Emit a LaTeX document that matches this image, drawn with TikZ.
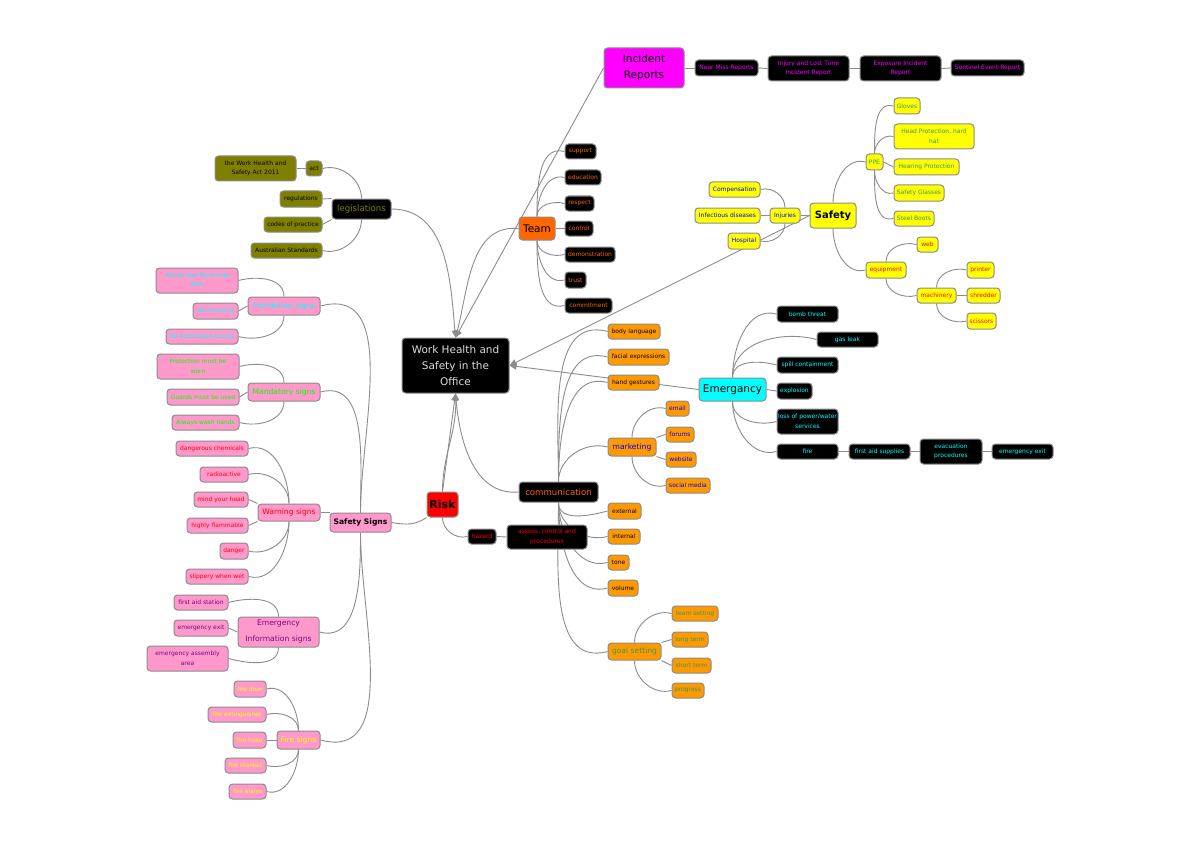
\documentclass[tikz,border=0pt]{standalone}
\usepackage{fontspec}
\setmainfont{DejaVu Sans}
\usetikzlibrary{arrows.meta,backgrounds}
\definecolor{gline}{HTML}{8C8C8C}
\definecolor{pinkf}{HTML}{FF99CC}
\definecolor{olivef}{HTML}{808000}
\definecolor{orgf}{HTML}{FF9900}
\definecolor{teamf}{HTML}{FF6600}
\definecolor{tealt}{HTML}{339966}
\definecolor{centt}{HTML}{DDDDDD}
\definecolor{magc}{HTML}{FF00FF}
\definecolor{cyac}{HTML}{00FFFF}
\definecolor{grec}{HTML}{00FF00}
\definecolor{yelc}{HTML}{FFFF00}
\definecolor{redc}{HTML}{FF0000}
\definecolor{bluc}{HTML}{0000FF}
\definecolor{purc}{HTML}{800080}
\tikzset{
 x=1pt,y=1pt,
 box/.style={draw=gline,line width=1pt,rounded corners=3.5pt,inner sep=0pt,align=center,font=\fontsize{6}{9.5}\selectfont},
 mid/.style={font=\fontsize{7.6}{16}\selectfont},
 wide/.style={font=\fontsize{8.6}{16}\selectfont},
 big/.style={font=\fontsize{10.5}{16}\selectfont},
 pinkb/.style={box,fill=pinkf},
 oliveb/.style={box,fill=olivef,text=black},
 orgb/.style={box,fill=orgf},
 yelb/.style={box,fill=yelc},
 blkb/.style={box,fill=black},
 edge/.style={draw=gline,line width=.9pt},
 arr/.style={edge,-{Triangle[length=7pt,width=6.5pt,fill=gline]}},
 upR/.style={out=90,in=165},
 dnR/.style={out=-90,in=195},
 upL/.style={out=90,in=15},
 dnL/.style={out=-90,in=-15},
}
\newcommand{\nd}[7][]{\node[#1,minimum width={#4-#3},minimum height={#6-#5}] (#2) at ({(#3+#4)/2},{-(#5+#6)/2}) {#7};}
\begin{document}
\begin{tikzpicture}
\useasboundingbox (0,0) rectangle (1200,-848);
% centre
\nd[blkb,big,text=centt]{cen}{402}{509}{338}{393}{Work Health and\\Safety in the\\Office}
% incident
\nd[box,big,fill=magc,text=black]{inc}{604}{684}{48}{88}{Incident\\Reports}
\nd[blkb,text=magc]{near}{695}{758}{60}{76}{Near Miss Reports}
\nd[blkb,text=magc]{inj}{768}{849}{56}{81}{Injury and Lost Time\\Incident Report}
\nd[blkb,text=magc]{expo}{860}{941}{56}{81}{Exposure Incident\\Report}
\nd[blkb,text=magc]{sent}{951}{1024}{60}{76}{Sentinel Event Report}
% safety
\nd[yelb,font=\fontsize{10}{14}\selectfont\bfseries,text=black]{saf}{810}{856}{203}{228}{Safety}
\nd[yelb,text=tealt]{ppe}{866}{883}{154}{170}{PPE}
\nd[yelb,text=tealt]{glov}{894}{920}{98}{114}{Gloves}
\nd[yelb,text=tealt]{head}{894}{974}{124}{149}{Head Protection, hard\\hat}
\nd[yelb,text=tealt]{hear}{894}{959}{159}{175}{Hearing Protection}
\nd[yelb,text=tealt]{glas}{894}{944}{185}{201}{Safety Glasses}
\nd[yelb,text=tealt]{boot}{894}{934}{211}{226}{Steel Boots}
\nd[yelb,text=redc]{equ}{866}{906}{262}{278}{equipment}
\nd[yelb,text=redc]{web}{917}{938}{237}{252}{web}
\nd[yelb,text=redc]{mach}{917}{956}{288}{303}{machinery}
\nd[yelb,text=redc]{prin}{967}{994}{262}{278}{printer}
\nd[yelb,text=redc]{shre}{967}{1000}{288}{303}{shredder}
\nd[yelb,text=redc]{scis}{967}{996}{313}{329}{scissors}
\nd[yelb,text=bluc]{injs}{770}{800}{208}{223}{Injuries}
\nd[yelb,text=bluc]{comp}{709}{760}{182}{197}{Compensation}
\nd[yelb,text=bluc]{infe}{695}{760}{208}{223}{Infectious diseases}
\nd[yelb,text=bluc]{hosp}{728}{760}{233}{249}{Hospital}
% team
\nd[box,big,fill=teamf,text=black]{team}{519}{555}{217}{240}{Team}
\nd[blkb,text=teamf]{supp}{565}{596}{144}{159}{support}
\nd[blkb,text=teamf]{educ}{565}{601}{170}{185}{education}
\nd[blkb,text=teamf]{resp}{565}{594}{196}{211}{respect}
\nd[blkb,text=teamf]{cont}{565}{593}{221}{236}{control}
\nd[blkb,text=teamf]{demo}{565}{615}{247}{262}{demonstration}
\nd[blkb,text=teamf]{trus}{565}{586}{272}{288}{trust}
\nd[blkb,text=teamf]{comm}{565}{612}{298}{313}{commitment}
% communication
\nd[blkb,wide,text=teamf]{cmn}{519}{598}{482}{502}{communication}
\nd[orgb,text=black]{body}{608}{660}{324}{339}{body language}
\nd[orgb,text=black]{faci}{608}{669}{349}{365}{facial expressions}
\nd[orgb,text=black]{hand}{608}{659}{375}{390}{hand gestures}
\nd[orgb,mid,text=bluc]{mark}{608}{656}{438}{456}{marketing}
\nd[orgb,text=bluc]{emai}{666}{689}{401}{416}{email}
\nd[orgb,text=bluc]{foru}{666}{694}{427}{442}{forums}
\nd[orgb,text=bluc]{webs}{666}{696}{452}{467}{website}
\nd[orgb,text=bluc]{soci}{666}{710}{478}{493}{social media}
\nd[orgb,text=black]{exte}{608}{641}{503}{519}{external}
\nd[orgb,text=black]{inte}{608}{640}{529}{544}{internal}
\nd[orgb,text=black]{tone}{608}{629}{555}{570}{tone}
\nd[orgb,text=black]{volu}{608}{638}{580}{596}{volume}
\nd[orgb,mid,text=tealt]{goal}{608}{661}{643}{660}{goal setting}
\nd[orgb,text=tealt]{tset}{672}{718}{606}{621}{team setting}
\nd[orgb,text=tealt]{long}{672}{708}{632}{647}{long term}
\nd[orgb,text=tealt]{shor}{672}{711}{658}{673}{short term}
\nd[orgb,text=tealt]{prog}{672}{704}{683}{698}{progress}
% risk
\nd[box,font=\fontsize{11}{14}\selectfont\bfseries,fill=redc,text=black]{risk}{427}{458}{492}{517}{Risk}
\nd[blkb,text=redc]{haz}{468}{496}{529}{544}{hazard}
\nd[blkb,text=redc]{asse}{507}{587}{525}{549}{assess, control and\\procedures}
% emergency
\nd[box,big,fill=cyac,text=black]{emg}{699}{766}{378}{401}{Emergancy}
\nd[blkb,text=cyac]{bomb}{777}{838}{306}{322}{bomb threat}
\nd[blkb,text=cyac]{gas}{817}{878}{332}{347}{gas leak}
\nd[blkb,text=cyac]{spil}{777}{838}{357}{373}{spill containment}
\nd[blkb,text=cyac]{expl}{777}{812}{383}{399}{explosion}
\nd[blkb,text=cyac]{loss}{777}{838}{409}{434}{loss of power/water\\services}
\nd[blkb,text=cyac]{fire}{777}{838}{444}{459}{fire}
\nd[blkb,text=cyac]{aid}{849}{910}{444}{459}{first aid supplies}
\nd[blkb,text=cyac]{evac}{920}{982}{439}{464}{evacuation\\procedures}
\nd[blkb,text=cyac]{exit}{992}{1053}{444}{459}{emergency exit}
% legislation
\nd[blkb,wide,text=olivef]{leg}{332}{391}{199}{219}{legislations}
\nd[oliveb]{act}{306}{322}{161}{176}{act}
\nd[oliveb]{whs}{215}{296}{156}{181}{the Work Health and\\Safety Act 2011}
\nd[oliveb]{regu}{280}{322}{191}{207}{regulations}
\nd[oliveb]{code}{264}{322}{217}{232}{codes of practice}
\nd[oliveb]{aust}{251}{322}{243}{258}{Australian Standards}
% signs
\nd[pinkb,mid,text=black]{ssig}{330}{391}{513}{532}{\bfseries Safety Signs}
\nd[pinkb,mid,text=cyac]{proh}{248}{320}{297}{315}{Prohibition signs}
\nd[pinkb,text=cyac]{auth}{156}{238}{268}{293}{Authorised Personnel\\Only}
\nd[pinkb,text=cyac]{nosm}{193}{238}{303}{319}{No Smoking}
\nd[pinkb,text=cyac]{noac}{166}{238}{329}{344}{No Authorised Access}
\nd[pinkb,mid,text=grec]{mand}{248}{320}{383}{401}{Mandatory signs}
\nd[pinkb,text=grec]{prot}{157}{239}{354}{379}{Protection must be\\worn}
\nd[pinkb,text=grec]{guar}{167}{239}{389}{405}{Guards must be used}
\nd[pinkb,text=grec]{wash}{172}{239}{415}{430}{Always wash hands}
\nd[pinkb,mid,text=redc]{warn}{258}{320}{504}{521}{Warning signs}
\nd[pinkb,text=redc]{dang}{176}{248}{441}{456}{dangerous chemicals}
\nd[pinkb,text=redc]{radi}{200}{248}{467}{482}{radioactive}
\nd[pinkb,text=redc]{mind}{194}{248}{492}{507}{mind your head}
\nd[pinkb,text=redc]{high}{187}{248}{518}{533}{highly flammable}
\nd[pinkb,text=redc]{dngr}{220}{248}{543}{559}{danger}
\nd[pinkb,text=redc]{slip}{186}{248}{569}{584}{slippery when wet}
\nd[pinkb,mid,text=purc]{einf}{238}{319}{617}{647}{Emergency\\Information signs}
\nd[pinkb,text=purc]{fast}{174}{228}{595}{610}{first aid station}
\nd[pinkb,text=purc]{eext}{174}{228}{620}{636}{emergency exit}
\nd[pinkb,text=purc]{eass}{147}{228}{646}{671}{emergency assembly\\area}
\nd[pinkb,mid,text=yelc]{fsig}{277}{320}{731}{749}{Fire signs}
\nd[pinkb,text=yelc]{fdoo}{234}{266}{681}{697}{fire door}
\nd[pinkb,text=yelc]{fext}{208}{266}{707}{722}{fire extinguisher}
\nd[pinkb,text=yelc]{fhos}{233}{266}{732}{748}{fire hose}
\nd[pinkb,text=yelc]{fbla}{225}{266}{758}{773}{fire blanket}
\nd[pinkb,text=yelc]{fala}{229}{266}{784}{799}{fire alarm}
\begin{pgfonlayer}{background}
\fill[white] (0,0) rectangle (1200,-848);
% chain: incident
\draw[edge] (inc.east) -- (near.west);
\draw[edge] (near.east) -- (inj.west);
\draw[edge] (inj.east) -- (expo.west);
\draw[edge] (expo.east) -- (sent.west);
% safety tree
\draw[edge] (saf.north) to[upR] (ppe.west);
\draw[edge] (saf.south) to[dnR] (equ.west);
\draw[edge] (ppe.north) to[upR] (glov.west);
\draw[edge] (ppe.north) to[upR] (head.west);
\draw[edge] (ppe.east) -- (hear.west);
\draw[edge] (ppe.south) to[dnR] (glas.west);
\draw[edge] (ppe.south) to[dnR] (boot.west);
\draw[edge] (equ.north) to[upR] (web.west);
\draw[edge] (equ.south) to[dnR] (mach.west);
\draw[edge] (mach.north) to[upR] (prin.west);
\draw[edge] (mach.east) -- (shre.west);
\draw[edge] (mach.south) to[dnR] (scis.west);
\draw[edge] (saf.west) -- (injs.east);
\draw[edge] (injs.north) to[upL] (comp.east);
\draw[edge] (injs.west) -- (infe.east);
\draw[edge] (injs.south) to[dnL] (hosp.east);
% team tree
\draw[edge] (team.north) to[upR] (supp.west);
\draw[edge] (team.north) to[upR] (educ.west);
\draw[edge] (team.north) to[upR] (resp.west);
\draw[edge] (team.east) -- (cont.west);
\draw[edge] (team.south) to[dnR] (demo.west);
\draw[edge] (team.south) to[dnR] (trus.west);
\draw[edge] (team.south) to[dnR] (comm.west);
% communication tree
\draw[edge] (cmn.north) to[upR] (body.west);
\draw[edge] (cmn.north) to[upR] (faci.west);
\draw[edge] (cmn.north) to[upR] (hand.west);
\draw[edge] (cmn.north) to[upR] (mark.west);
\draw[edge] (cmn.south) to[dnR] (exte.west);
\draw[edge] (cmn.south) to[dnR] (inte.west);
\draw[edge] (cmn.south) to[dnR] (tone.west);
\draw[edge] (cmn.south) to[dnR] (volu.west);
\draw[edge] (cmn.south) to[dnR] (goal.west);
\draw[edge] (mark.north) to[upR] (emai.west);
\draw[edge] (mark.north east) -- (foru.west);
\draw[edge] (mark.south east) -- (webs.west);
\draw[edge] (mark.south) to[dnR] (soci.west);
\draw[edge] (goal.north) to[upR] (tset.west);
\draw[edge] (goal.north east) -- (long.west);
\draw[edge] (goal.south east) -- (shor.west);
\draw[edge] (goal.south) to[dnR] (prog.west);
% risk
\draw[edge] (risk.south) to[dnR] (haz.west);
\draw[edge] (haz.east) -- (asse.west);
% emergency tree
\draw[edge] (emg.north) to[upR] (bomb.west);
\draw[edge] (emg.north) to[upR] (gas.west);
\draw[edge] (emg.north) to[upR] (spil.west);
\draw[edge] (emg.east) -- (expl.west);
\draw[edge] (emg.south) to[dnR] (loss.west);
\draw[edge] (emg.south) to[dnR] (fire.west);
\draw[edge] (fire.east) -- (aid.west);
\draw[edge] (aid.east) -- (evac.west);
\draw[edge] (evac.east) -- (exit.west);
% legislation tree
\draw[edge] (leg.north) to[upL] (act.east);
\draw[edge] (act.west) -- (whs.east);
\draw[edge] (leg.north west) -- (regu.east);
\draw[edge] (leg.south west) -- (code.east);
\draw[edge] (leg.south) to[dnL] (aust.east);
% signs
\draw[edge] (proh.north) to[upL] (auth.east);
\draw[edge] (proh.west) -- (nosm.east);
\draw[edge] (proh.south) to[dnL] (noac.east);
\draw[edge] (mand.north) to[upL] (prot.east);
\draw[edge] (mand.west) -- (guar.east);
\draw[edge] (mand.south) to[dnL] (wash.east);
\draw[edge] (warn.north) to[upL] (dang.east);
\draw[edge] (warn.north) to[upL] (radi.east);
\draw[edge] (warn.north west) -- (mind.east);
\draw[edge] (warn.south west) -- (high.east);
\draw[edge] (warn.south) to[dnL] (dngr.east);
\draw[edge] (warn.south) to[dnL] (slip.east);
\draw[edge] (einf.north) to[upL] (fast.east);
\draw[edge] (einf.west) -- (eext.east);
\draw[edge] (einf.south) to[dnL] (eass.east);
\draw[edge] (fsig.north) to[upL] (fdoo.east);
\draw[edge] (fsig.north) to[upL] (fext.east);
\draw[edge] (fsig.west) -- (fhos.east);
\draw[edge] (fsig.south) to[dnL] (fbla.east);
\draw[edge] (fsig.south) to[dnL] (fala.east);
\draw[edge] (ssig.north) to[upL] (proh.east);
\draw[edge] (ssig.north) to[upL] (mand.east);
\draw[edge] (ssig.north west) -- (warn.east);
\draw[edge] (ssig.south) to[dnL] (einf.east);
\draw[edge] (ssig.south) to[dnL] (fsig.east);
\draw[edge] (ssig.east) to[out=-10,in=215] (risk.south west);
% into centre
\draw[arr] (inc.west) -- (cen.north);
\draw[arr] (saf.west) -- (cen.east);
\draw[arr] (emg.west) -- (cen.east);
\draw[arr] (leg.east) to[out=0,in=95] (cen.north);
\draw[arr] (team.west) to[out=175,in=75] (cen.north);
\draw[arr] (risk.north) -- (cen.south);
\draw[edge] (risk.north) to[out=90,in=-86] (cen.south);
\draw[arr] (cmn.west) to[out=185,in=-85] (cen.south);
\end{pgfonlayer}
\end{tikzpicture}
\end{document}
